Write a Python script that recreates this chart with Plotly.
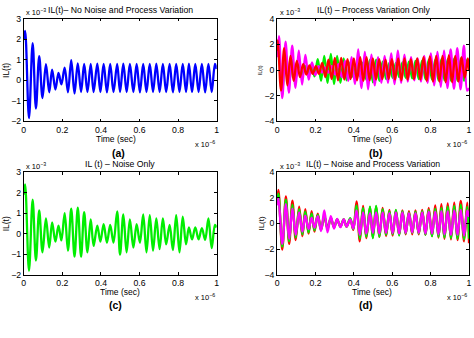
import plotly.graph_objects as go

# ---------------- data (units: time x1e-6 s, current x1e-3 A) ----------------
t_grid = [0.0, 0.007, 0.027, 0.046, 0.063, 0.080, 0.097, 0.115, 0.132, 0.147, 0.164,
          0.180, 0.195, 0.212, 0.229, 0.246, 0.263, 0.280, 0.297, 0.313, 0.330,
          0.347, 0.362, 0.381, 0.397, 0.414, 0.431, 0.448, 0.465, 0.484, 0.499,
          0.516, 0.533, 0.550, 0.568, 0.585, 0.602, 0.619, 0.636, 0.653, 0.670,
          0.687, 0.704, 0.721, 0.738, 0.756, 0.773, 0.790, 0.807, 0.824, 0.841,
          0.856, 0.872, 0.889, 0.906, 0.923, 0.940, 0.957, 0.974, 0.991, 1.0]

t_red_b = [0.0, 0.0040, 0.0205, 0.0370, 0.0535, 0.0700, 0.0865, 0.1030, 0.1195, 0.1360,
           0.1525, 0.1690, 0.1855, 0.2020, 0.2185, 0.2350, 0.2515, 0.2680, 0.2845,
           0.3010, 0.3175, 0.3340, 0.3505, 0.3670, 0.3835, 0.4000, 0.4165, 0.4330,
           0.4495, 0.4660, 0.4825, 0.4990, 0.5155, 0.5320, 0.5485, 0.5650, 0.5815,
           0.5980, 0.6145, 0.6310, 0.6475, 0.6640, 0.6805, 0.6970, 0.7135, 0.7300,
           0.7465, 0.7630, 0.7795, 0.7960, 0.8125, 0.8290, 0.8455, 0.8620, 0.8785,
           0.8950, 0.9115, 0.9280, 0.9445, 0.9610, 0.9775, 0.9940, 1.0]

t_mag_b = [0.0, 0.0100, 0.0272, 0.0444, 0.0616, 0.0788, 0.0960, 0.1132, 0.1304, 0.1476,
           0.1648, 0.1820, 0.1992, 0.2164, 0.2336, 0.2508, 0.2680, 0.2852, 0.3024,
           0.3196, 0.3368, 0.3540, 0.3712, 0.3884, 0.4056, 0.4228, 0.4400, 0.4572,
           0.4744, 0.4916, 0.5088, 0.5260, 0.5432, 0.5604, 0.5776, 0.5948, 0.6120,
           0.6292, 0.6464, 0.6636, 0.6808, 0.6980, 0.7152, 0.7324, 0.7496, 0.7668,
           0.7840, 0.8012, 0.8184, 0.8356, 0.8528, 0.8700, 0.8872, 0.9044, 0.9216,
           0.9388, 0.9560, 0.9732, 0.9904, 1.0]

# (a) no noise, no process variation
il_a = [2.00, 2.40, -1.84, 1.81, -1.37, 1.18, -0.86, 0.79, -0.58, 0.52, -0.45,
        0.36, -0.20, 0.62, -0.58, 0.98, -0.64, 0.82, -0.57, 0.80, -0.57,
        0.80, -0.57, 0.81, -0.57, 0.80, -0.58, 0.80, -0.57, 0.80, -0.57,
        0.81, -0.57, 0.80, -0.57, 0.80, -0.58, 0.80, -0.57, 0.80, -0.57,
        0.81, -0.57, 0.80, -0.57, 0.80, -0.58, 0.80, -0.57, 0.80, -0.57,
        0.81, -0.57, 0.80, -0.57, 0.80, -0.58, 0.80, -0.57, 0.80, 0.55]

# (c) noise only
il_c = [1.90, 2.39, -1.81, 1.65, -1.31, 1.13, -0.91, 0.74, -0.68, 0.55, -0.39,
        0.39, -0.33, 1.00, -0.83, 1.21, -1.12, 1.26, -1.12, 1.05, -0.91,
        0.69, -0.60, 0.39, -0.39, 0.46, -0.44, 0.42, -0.44, 1.08, -1.02,
        0.93, -0.91, 0.69, -0.68, 0.46, -0.44, 0.93, -0.91, 0.90, -0.83,
        0.74, -0.75, 0.74, -0.52, 0.42, -0.80, 0.90, -0.91, 0.82, -0.52,
        0.30, -0.28, 0.30, -0.28, 0.27, -0.30, 0.74, -0.70, 0.42, 0.30]

# (b) process variation only
il_b_green = [1.20, 1.80, -1.50, 1.30, -1.00, 0.80, -0.60, 0.45, -0.35, 0.30, -0.30,
              0.45, -0.50, 0.85, -0.85, 1.10, -1.00, 1.25, -1.10, 1.10, -1.00,
              0.90, -0.80, 0.60, -0.55, 0.45, -0.50, 0.60, -0.75, 0.80, -0.95,
              0.80, -0.85, 0.65, -0.70, 0.55, -0.60, 0.55, -0.55, 0.60, -0.60,
              0.65, -0.65, 0.70, -0.70, 0.75, -0.70, 0.80, -0.75, 0.80, -0.80,
              0.85, -0.80, 0.85, -0.85, 0.90, -0.85, 0.90, -0.85, 0.85, 0.30]
il_b_magenta = [1.00, 2.64, -2.19, 2.20, -1.76, 1.90, -1.38, 1.50, -1.13, 1.18, -0.75,
                0.60, -0.40, 0.30, -0.20, 0.20, -0.20, 0.30, -0.35, 0.45, -0.55,
                0.70, -0.85, 1.00, -1.10, 1.60, -1.40, 1.40, -1.50, 1.20, -1.20,
                1.00, -1.00, 1.10, -1.00, 1.30, -1.10, 1.50, -1.00, 1.20, -0.90,
                1.00, -0.80, 0.90, -0.90, 1.10, -1.00, 1.30, -1.20, 1.40, -1.30,
                1.50, -1.40, 1.60, -1.45, 1.70, -1.50, 1.90, -1.60, -1.40]
il_b_red = [1.50, 2.30, -1.60, 1.70, -1.20, 1.10, -0.85, 0.70, -0.55, 0.45, -0.35,
            0.35, -0.30, 0.30, -0.30, 0.55, -0.55, 0.80, -0.70, 0.95, -0.80,
            0.95, -0.75, 0.85, -0.70, 0.90, -0.80, 1.00, -0.85, 1.00, -0.80,
            0.90, -0.75, 0.85, -0.70, 0.80, -0.70, 0.85, -0.75, 0.90, -0.80,
            0.90, -0.75, 0.85, -0.70, 0.90, -0.75, 1.00, -0.85, 1.05, -0.90,
            1.10, -0.90, 1.10, -0.95, 1.15, -0.95, 1.10, -0.90, 1.00, -0.60,
            0.90, 0.00]

# (d) noise and process variation
il_d_red = [1.80, 2.60, -2.05, 2.10, -1.60, 1.76, -1.30, 1.30, -1.00, 1.10, -0.80,
            0.95, -0.65, 0.75, -0.50, 0.55, -0.40, 0.40, -0.30, 0.30, -0.25,
            0.30, -0.25, 0.35, -0.50, 1.70, -1.40, 1.35, -1.15, 1.25, -1.10,
            1.30, -1.05, 1.20, -1.00, 1.05, -0.95, 1.00, -0.90, 1.00, -0.85,
            0.95, -0.85, 1.00, -0.85, 1.05, -0.90, 1.20, -1.00, 1.40, -1.10,
            1.50, -1.20, 1.55, -1.25, 1.60, -1.30, 1.75, -1.40, 1.60, -1.55]
il_d_green = [1.60, 2.30, -1.80, 1.85, -1.40, 1.45, -1.10, 1.10, -0.85, 0.90, -0.70,
              0.75, -0.55, 0.65, -0.50, 0.60, -0.40, 0.40, -0.30, 0.30, -0.25,
              0.30, -0.25, 0.40, -0.45, 1.40, -1.20, 1.20, -1.05, 1.30, -1.15,
              1.35, -1.05, 1.10, -0.90, 0.95, -0.85, 1.05, -0.95, 0.95, -0.80,
              0.85, -0.75, 0.90, -0.80, 0.95, -0.90, 1.05, -1.00, 1.15, -1.05,
              1.20, -1.10, 1.30, -1.15, 1.35, -1.20, 1.45, -1.25, 1.30, -1.20]
il_d_magenta = [1.40, 1.95, -1.60, 1.50, -1.20, 1.15, -0.90, 0.85, -0.65, 0.60, -0.45,
                0.45, -0.35, 0.55, -0.60, 1.00, -0.70, 0.55, -0.40, 0.35, -0.30,
                0.30, -0.25, 0.30, -0.40, 1.00, -0.90, 0.85, -0.80, 0.80, -0.75,
                0.85, -0.80, 0.85, -0.75, 0.80, -0.75, 0.85, -0.80, 0.85, -0.75,
                0.80, -0.70, 0.80, -0.75, 0.85, -0.80, 0.90, -0.80, 0.90, -0.85,
                0.95, -0.85, 0.95, -0.90, 1.00, -0.90, 1.05, -0.95, 1.00, 0.50]

x_ticks = [0, 0.2, 0.4, 0.6, 0.8, 1]
x_tick_text = ["0", "0.2", "0.4", "0.6", "0.8", "1"]
y_ticks_ac = [-2, -1, 0, 1, 2, 3]
y_ticks_bd = [-4, -2, 0, 2, 4]

titles = ["IL(t)– No Noise and Process Variation",
          "IL(t) – Process Variation Only",
          "IL (t) – Noise Only",
          "IL(t) – Noise and Process Variation"]
panel_labels = ["(a)", "(b)", "(c)", "(d)"]

BLUE, GREEN, MAGENTA, RED = "#0000ff", "#00ee00", "#ff00ff", "#ff0000"
W, H = 474, 338
FONT = "Liberation Sans, Arial, sans-serif"


def px(x):
    return x / W


def py(y):
    return 1 - y / H


fig = go.Figure()


def line(x, y, color, ax):
    fig.add_trace(go.Scatter(x=x, y=y, mode="lines", xaxis="x" + ax, yaxis="y" + ax,
                             line=dict(color=color, width=2.3, shape="spline", smoothing=1.0),
                             showlegend=False, hoverinfo="skip"))


line(t_grid, il_a, BLUE, "")
line(t_grid, il_b_green, GREEN, "2")
line(t_mag_b, il_b_magenta, MAGENTA, "2")
line(t_red_b, il_b_red, RED, "2")
line(t_grid, il_c, GREEN, "3")
line(t_grid, il_d_red, RED, "4")
line(t_grid, il_d_green, GREEN, "4")
line(t_grid, il_d_magenta, MAGENTA, "4")

left_dom = [px(22), px(217)]
right_dom = [px(278), px(472)]
top_dom = [py(120), py(14)]
bot_dom = [py(278), py(172)]

common = dict(ticks="inside", ticklen=3, tickwidth=0.8, tickcolor="black",
              showline=True, linecolor="black", linewidth=0.8, mirror="allticks",
              showgrid=False, zeroline=False,
              tickfont=dict(size=8.7, color="black", family=FONT))


def xax(dom, anchor):
    return dict(common, domain=dom, anchor=anchor, range=[0, 1],
                tickvals=x_ticks, ticktext=x_tick_text, tickangle=0)


def yax(dom, anchor, ticks, rng):
    return dict(common, domain=dom, anchor=anchor, range=rng, tickvals=ticks)


fig.update_layout(
    width=W, height=H, margin=dict(l=0, r=0, t=0, b=0),
    paper_bgcolor="white", plot_bgcolor="white",
    font=dict(family=FONT, color="black", size=9),
    xaxis=xax(left_dom, "y"), yaxis=yax(top_dom, "x", y_ticks_ac, [-2, 3]),
    xaxis2=xax(right_dom, "y2"), yaxis2=yax(top_dom, "x2", y_ticks_bd, [-4, 4]),
    xaxis3=xax(left_dom, "y3"), yaxis3=yax(bot_dom, "x3", y_ticks_ac, [-2, 3]),
    xaxis4=xax(right_dom, "y4"), yaxis4=yax(bot_dom, "x4", y_ticks_bd, [-4, 4]),
)

ann = []


def text(x, y, s, size=8.5, xanchor="center", angle=0, bold=False):
    ann.append(dict(x=px(x), y=py(y), xref="paper", yref="paper", text=("<b>%s</b>" % s) if bold else s,
                    showarrow=False, xanchor=xanchor, yanchor="middle", textangle=angle,
                    font=dict(size=size, family=FONT, color="black")))


# per panel: title x, title y, left, right, exponent y, ylabel x, ylabel size, xlabel x, label x, plot bottom, label y
panels = [
    (119.5, 5.5, 22.5, 217, 7, 4, 8.5, 115, 118, 120, 152),
    (375, 5.5, 278.5, 472, 7, 261, 5.5, 374, 377, 120, 152),
    (119, 163.5, 22.5, 217, 166, 4, 8.5, 119, 115, 278, 309.5),
    (375, 163.5, 278.5, 472, 166, 262, 8, 374, 367, 278, 309.5),
]
for i, (tx, ty, xl, xr, ey, ylx, yls, xlx, lx, bot, ly) in enumerate(panels):
    text(tx, ty, titles[i], size=8.7)
    text(xl, ey, "x 10<sup>−3</sup>", size=7.5, xanchor="left")
    text(ylx, (bot - 53), "IL(t)", size=yls, angle=-90)
    text(xlx, bot + 18, "Time (sec)", size=8.5)
    text(xr, bot + 23, "x 10<sup>−6</sup>", size=7.5, xanchor="right")
    text(lx, ly, panel_labels[i], size=10.5, bold=True)

fig.update_layout(annotations=ann)
fig.write_html("out.html")
